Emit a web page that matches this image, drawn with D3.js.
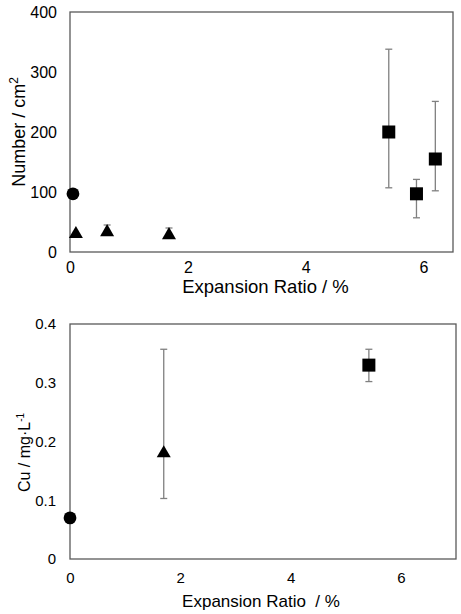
<!DOCTYPE html>
<html>
<head>
<meta charset="utf-8">
<script src="https://cdn.jsdelivr.net/npm/d3@7"></script>
<style>
  body { margin: 0; background: #fff; }
  text { font-family: "Liberation Sans", Arial, sans-serif; fill: #000; }
</style>
</head>
<body>
<svg id="chart" width="461" height="614"></svg>
<script>
// top panel: number density vs expansion ratio
const topCircle = [{x: 0.05, y: 97}];
const topTriangle = [
  {x: 0.1, y: 30, lo: 30, hi: 30},
  {x: 0.63, y: 33, lo: 30, hi: 45},
  {x: 1.68, y: 28, lo: 26, hi: 40}
];
const topSquare = [
  {x: 5.41, y: 200, lo: 107, hi: 338},
  {x: 5.88, y: 97, lo: 57, hi: 121},
  {x: 6.2, y: 155, lo: 102, hi: 251}
];
const topXTicks = [0, 2, 4, 6];
const topYTicks = [0, 100, 200, 300, 400];

// bottom panel: Cu concentration vs expansion ratio
const botCircle = [{x: 0, y: 0.07}];
const botTriangle = [{x: 1.7, y: 0.18, lo: 0.103, hi: 0.357}];
const botSquare = [{x: 5.42, y: 0.33, lo: 0.302, hi: 0.357}];
const botXTicks = [0, 2, 4, 6];
const botYTicks = [0, 0.1, 0.2, 0.3, 0.4];

const svg = d3.select("#chart");

function panel(opt) {
  const g = svg.append("g");
  const x = d3.scaleLinear().domain(opt.xDomain).range([opt.left, opt.right]);
  const y = d3.scaleLinear().domain(opt.yDomain).range([opt.bottom, opt.top]);

  // frame
  g.append("rect")
    .attr("x", opt.left).attr("y", opt.top)
    .attr("width", opt.right - opt.left).attr("height", opt.bottom - opt.top)
    .attr("fill", "none").attr("stroke", "#595959").attr("stroke-width", 1.3);

  // tick labels through axes (no tick lines)
  const xAxis = g.append("g").attr("transform", `translate(0,${opt.bottom})`)
    .call(d3.axisBottom(x).tickValues(opt.xTicks).tickSize(0).tickPadding(0).tickFormat(d3.format("d")));
  xAxis.selectAll("text").attr("dy", null).attr("y", opt.xTickDy);
  const yAxis = g.append("g").attr("transform", `translate(${opt.left},0)`)
    .call(d3.axisLeft(y).tickValues(opt.yTicks).tickSize(0).tickPadding(opt.yPad).tickFormat(opt.yFormat));
  [xAxis, yAxis].forEach(a => {
    a.select(".domain").remove();
    a.selectAll("text").style("font-size", opt.tickSize + "px")
      .style("font-family", "Liberation Sans, Arial, sans-serif").attr("fill", "#000");
  });

  // error bars
  const errs = opt.triangle.concat(opt.square).filter(d => d.hi !== d.lo);
  const eb = g.append("g").attr("stroke", "#808080").attr("stroke-width", 1.3);
  errs.forEach(d => {
    eb.append("line").attr("x1", x(d.x)).attr("x2", x(d.x)).attr("y1", y(d.lo)).attr("y2", y(d.hi));
    [d.lo, d.hi].forEach(v => {
      eb.append("line").attr("x1", x(d.x) - 3.5).attr("x2", x(d.x) + 3.5).attr("y1", y(v)).attr("y2", y(v));
    });
  });

  // markers
  g.selectAll(".circ").data(opt.circle).join("circle")
    .attr("cx", d => x(d.x)).attr("cy", d => y(d.y)).attr("r", 6.4).attr("fill", "#000");
  const tri = d3.symbol().type(d3.symbolTriangle).size(85);
  g.selectAll(".tri").data(opt.triangle).join("path")
    .attr("d", tri).attr("transform", d => `translate(${x(d.x)},${y(d.y)})`).attr("fill", "#000");
  g.selectAll(".sq").data(opt.square).join("rect")
    .attr("x", d => x(d.x) - 6.5).attr("y", d => y(d.y) - 6.5)
    .attr("width", 13).attr("height", 13).attr("fill", "#000");

  // titles
  g.append("text")
    .attr("x", (opt.left + opt.right) / 2 + opt.xTitleShift).attr("y", opt.bottom + opt.xTitleDy)
    .attr("text-anchor", "middle").style("font-size", opt.xTitleSize + "px")
    .style("white-space", "pre")
    .text(opt.xTitle);
  const yt = g.append("text")
    .attr("transform", `translate(${opt.yTitleX},${(opt.top + opt.bottom) / 2 + opt.yTitleShift}) rotate(-90)`)
    .attr("text-anchor", "middle").style("font-size", opt.yTitleSize + "px");
  opt.yTitle(yt);
}

panel({
  left: 70, right: 453, top: 12, bottom: 252,
  xDomain: [0, 6.5], yDomain: [0, 400],
  xTicks: topXTicks, yTicks: topYTicks, yFormat: d3.format("d"),
  tickSize: 16, xTickDy: 20.5, yPad: 13,
  circle: topCircle, triangle: topTriangle, square: topSquare,
  xTitle: "Expansion Ratio / %", xTitleSize: 18.5, xTitleDy: 40.5, xTitleShift: 4,
  yTitleX: 25, yTitleSize: 18, yTitleShift: 0,
  yTitle: t => {
    t.append("tspan").text("Number / cm");
    t.append("tspan").attr("dy", -7).style("font-size", "12px").text("2");
  }
});

panel({
  left: 70, right: 456, top: 324, bottom: 559,
  xDomain: [0, 7], yDomain: [0, 0.4],
  xTicks: botXTicks, yTicks: botYTicks, yFormat: d => d === 0 ? "0" : d3.format(".1f")(d),
  tickSize: 15, xTickDy: 24, yPad: 14,
  circle: botCircle, triangle: botTriangle, square: botSquare,
  xTitle: "Expansion Ratio  / %", xTitleSize: 17, xTitleDy: 48, xTitleShift: -2,
  yTitleX: 30, yTitleSize: 16, yTitleShift: 11,
  yTitle: t => {
    t.append("tspan").text("Cu / mg\u00B7L");
    t.append("tspan").attr("dy", -6).style("font-size", "10px").text("-1");
  }
});
</script>
</body>
</html>
